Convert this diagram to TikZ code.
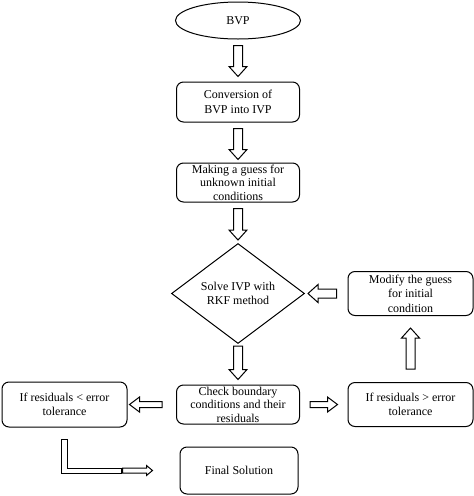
\documentclass[tikz,border=0pt]{standalone}
\usepackage{fontspec}
\setmainfont{Liberation Serif}
\usetikzlibrary{calc,shapes.geometric}

\tikzset{
  every node/.style={font=\fontsize{12}{14.5}\selectfont},
  ln/.style={line width=1pt},
  box/.style={ln, draw, rounded corners=7pt, inner sep=0pt, align=center},
  tight/.style={font=\fontsize{12}{13.5}\selectfont},
  fatw/.store in=\fatw, fath/.store in=\fath, fatl/.store in=\fatl,
  fatga/.store in=\fatga, fatgb/.store in=\fatgb,
  fatw=4.5pt, fath=9pt, fatl=10pt, fatga=0pt, fatgb=0pt,
  fat/.style={ln, draw, line join=miter, to path={
    let \p1=($(\tikztostart)!\fatga!(\tikztotarget)$),
        \p2=($(\tikztotarget)!\fatgb!(\tikztostart)$),
        \p3=($(\p2)!\fatl!(\p1)$)
    in ($(\p1)!\fatw!90:(\p2)$) -- ($(\p3)!\fatw!-90:(\p1)$)
       -- ($(\p3)!\fath!-90:(\p1)$) -- (\p2)
       -- ($(\p3)!\fath!90:(\p1)$) -- ($(\p3)!\fatw!90:(\p1)$)
       -- ($(\p1)!\fatw!-90:(\p2)$) -- cycle}},
  small/.style={fatw=3pt, fath=7.5pt, fatl=10pt},
}

\begin{document}
\begin{tikzpicture}[x=1pt,y=-1pt]
\useasboundingbox (0,0) rectangle (474,496);

\node[ln, draw, ellipse, minimum width=125pt, minimum height=37pt, inner sep=0pt] (bvp) at (238,20.5) {BVP};
\node[box, minimum width=123pt, minimum height=40pt] (conv) at (238,102) {Conversion of\\BVP into IVP};
\node[box, tight, minimum width=123pt, minimum height=39pt] (mg) at (238,182.5) {Making a guess for\\unknown initial\\conditions};
\node[ln, draw, diamond, aspect=1.33, minimum width=133pt, minimum height=100pt, inner sep=0pt, align=center] (solve) at (238,293.5) {Solve IVP with\\RKF method};
\node[box, minimum width=125pt, minimum height=44pt] (mod) at (410.5,293.5) {Modify the guess\\for initial\\condition};
\node[box, tight, minimum width=123pt, minimum height=39pt] (check) at (238,404.5) {Check boundary\\conditions and their\\residuals};
\node[box, minimum width=125pt, minimum height=45pt] (lt) at (64.5,404.5) {If residuals < error\\tolerance};
\node[box, minimum width=125pt, minimum height=44pt] (rt) at (410.5,404.5) {If residuals > error\\tolerance};
\node[box, minimum width=118pt, minimum height=47pt] (final) at (239,470.5) {Final Solution};

\draw[fat, fatga=6pt, fatgb=5pt] (bvp.south) to (conv.north);
\draw[fat, fatga=6pt, fatgb=3pt] (conv.south) to (mg.north);
\draw[fat, fatga=6pt, fatgb=3pt] (mg.south) to (solve.north);
\draw[fat, fatga=2pt, fatgb=5pt] (solve.south) to (check.north);
\draw[fat, small, fatga=14pt, fatgb=2pt] (check.west) to (lt.east);
\draw[fat, small, fatga=10pt, fatgb=10pt] (check.east) to (rt.west);
\draw[fat, fatga=13pt, fatgb=12pt] (rt.north) to (mod.south);
\draw[fat, fatga=11pt, fatgb=3pt] (mod.west) to (solve.east);

\coordinate (lk) at (lt.south |- final.west);
\draw[ln, line join=miter] ($(lt.south)+(-3,12)$) |- ($(lk)+(57,2.5)$)
  -- ($(lk)+(57,-2.5)$) -| ($(lt.south)+(3,12)$) -- cycle;
\draw[fat, fatw=2.5pt, fath=5pt, fatl=6pt, fatga=58pt, fatgb=27pt] (lk) to (final.west);
\end{tikzpicture}
\end{document}
